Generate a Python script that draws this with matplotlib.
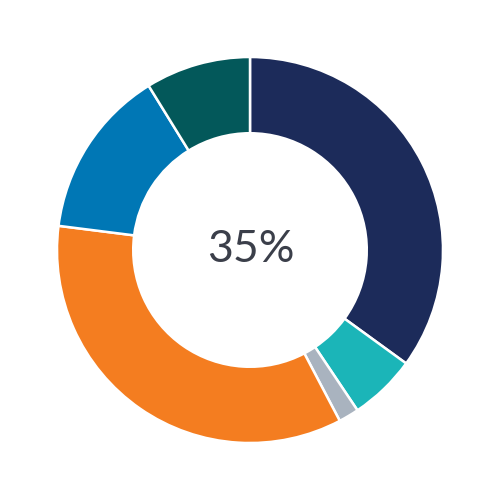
import matplotlib.pyplot as plt

# share of each segment, clockwise from the top
segments = ['Navy', 'Teal', 'Gray', 'Orange', 'Blue', 'Green']
values = [35.0, 5.6, 1.7, 34.7, 14.2, 8.8]
colors = ['#1c2b5a', '#1bb5b8', '#a9b3bf', '#f47d20', '#0077b5', '#03585a']
center_label = '35%'

fig = plt.figure(figsize=(5, 5), dpi=100)
ax = fig.add_axes([0, 0, 1, 1])

ax.pie(values, colors=colors, startangle=90, counterclock=False,
       radius=1.0,
       wedgeprops=dict(width=0.395, edgecolor='white', linewidth=1.8))

ax.text(0.005, 0.0, center_label, ha='center', va='center',
        fontsize=32, color='#3b3f4a', family=['Lato', 'DejaVu Sans'])

lim = 250 / 193
ax.set_xlim(-lim, lim)
ax.set_ylim(-lim, lim)
ax.set_aspect('equal')
ax.axis('off')

fig.savefig('out.png', dpi=100, facecolor='white')
